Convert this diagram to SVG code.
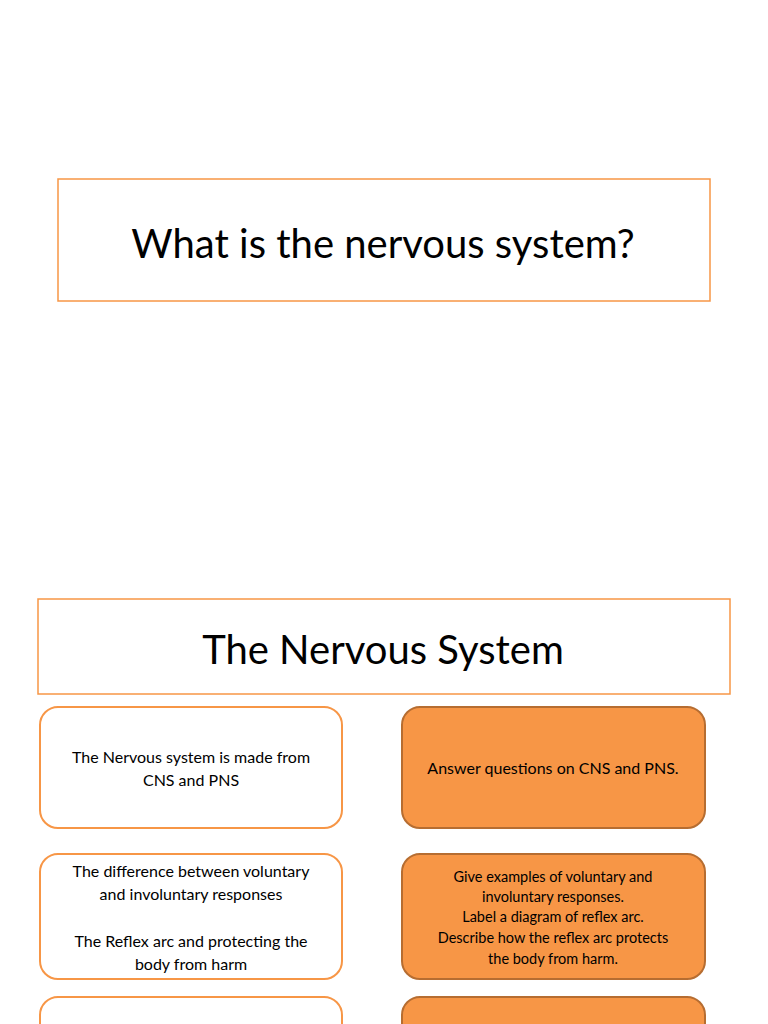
<svg xmlns="http://www.w3.org/2000/svg" width="768" height="1024" viewBox="0 0 768 1024">
<style>
text{font-family:Lato,"Open Sans",sans-serif;fill:#000;text-anchor:middle}
.hd{fill:#fff;stroke:#F79646;stroke-width:1.5}
.l{fill:#fff;stroke:#F79646;stroke-width:2}
.r{fill:#F79646;stroke:#B66D31;stroke-width:2}
.t1{font-size:16px}.t2{font-size:14.5px}
</style>
<rect width="768" height="1024" fill="#fff"/>
<g id="title1"><rect class="hd" x="58" y="179" width="652" height="122"/><text x="383" y="258" font-size="40">What is the nervous system?</text></g>
<g id="title2"><rect class="hd" x="38" y="599" width="692" height="95"/><text x="383" y="664" font-size="40">The Nervous System</text></g>
<g id="l1"><rect class="l" x="40" y="707" width="302" height="121" rx="18"/><text class="t1" x="191" y="763">The Nervous system is made from</text><text class="t1" x="191" y="786">CNS and PNS</text></g>
<g id="r1"><rect class="r" x="402" y="707" width="303" height="121" rx="18"/><text class="t1" x="553" y="774">Answer questions on CNS and PNS.</text></g>
<g id="l2"><rect class="l" x="40" y="854" width="302" height="125" rx="18"/><text class="t1" x="191" y="877">The difference between voluntary</text><text class="t1" x="191" y="900">and involuntary responses</text><text class="t1" x="191" y="947">The Reflex arc and protecting the</text><text class="t1" x="191" y="970">body from harm</text></g>
<g id="r2"><rect class="r" x="402" y="854" width="303" height="125" rx="18"/><text class="t2" x="553" y="882">Give examples of voluntary and</text><text class="t2" x="553" y="902">involuntary responses.</text><text class="t2" x="553" y="922">Label a diagram of reflex arc.</text><text class="t2" x="553" y="943">Describe how the reflex arc protects</text><text class="t2" x="553" y="964">the body from harm.</text></g>
<g id="l3"><rect class="l" x="40" y="997" width="302" height="80" rx="18"/></g>
<g id="r3"><rect class="r" x="402" y="997" width="303" height="80" rx="18"/></g>
<g id="connectors"/>
</svg>
